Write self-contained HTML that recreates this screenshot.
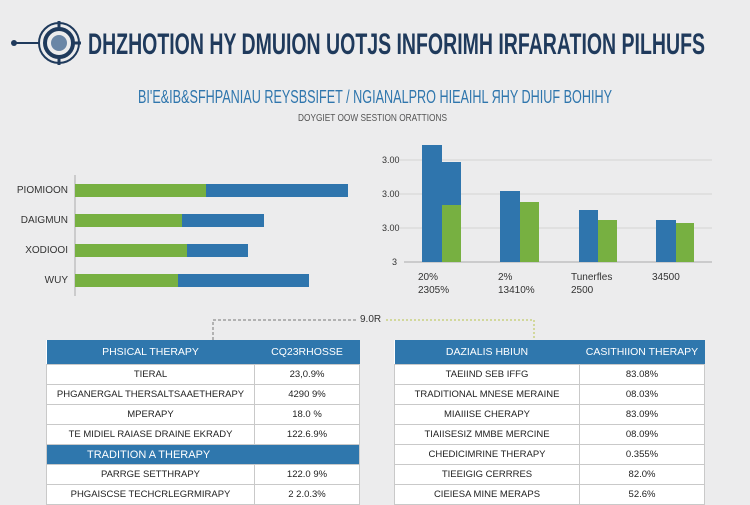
<!DOCTYPE html>
<html><head><meta charset="utf-8"><style>
body{margin:0;width:750px;height:500px;background:#ececed;position:relative;overflow:hidden;font-family:"Liberation Sans",sans-serif}
.a{position:absolute;white-space:nowrap}
.hl{font-size:10px;color:#333;text-align:right;width:60px;left:8px}
.bar{position:absolute;height:13px}
.g{background:#77b041}.b{background:#2f75ad}
.yl{font-size:9px;color:#333;left:382px}
.xl{font-size:10px;color:#333;line-height:13px}
table{position:absolute;border-collapse:collapse;font-size:9.5px;color:#222;background:#fff}
td{border:1px solid #c9c9c9;height:19px;padding:0;text-align:center}
th{background:#2f77ad;color:#fff;font-weight:normal;height:22px;font-size:10.5px}
td.s{background:#2f77ad;color:#fff;font-size:11px;text-align:left;padding-left:40px}
</style></head><body>
<svg class="a" style="left:0;top:0" width="750" height="500">
<circle cx="14" cy="43" r="3" fill="#1f3a5c"/>
<line x1="14" y1="43" x2="40" y2="43" stroke="#1f3a5c" stroke-width="2"/>
<circle cx="59" cy="43" r="20" fill="none" stroke="#1f3a5c" stroke-width="2"/>
<circle cx="59" cy="43" r="14" fill="none" stroke="#1f3a5c" stroke-width="4"/>
<circle cx="59" cy="43" r="8" fill="#6a86a6"/>
<line x1="59" y1="21" x2="59" y2="29" stroke="#1f3a5c" stroke-width="3"/>
<line x1="59" y1="57" x2="59" y2="65" stroke="#1f3a5c" stroke-width="3"/>
<line x1="73" y1="43" x2="81" y2="43" stroke="#1f3a5c" stroke-width="3"/>
<text x="88" y="54" font-size="30" font-weight="bold" fill="#1f3a5c" textLength="617" lengthAdjust="spacingAndGlyphs">DHZHOTION HY DMUION UOTJS INFORIMH IRFARATION PILHUFS</text>
<text x="138" y="103" font-size="18" fill="#2f76ad" textLength="474" lengthAdjust="spacingAndGlyphs">BI'E&amp;IB&amp;SFHPANIAU REYSBSIFET / NGIANALPRO HIEAIHL ЯHY DHIUF BOHIHY</text>
<text x="298" y="121" font-size="10" fill="#555" textLength="149" lengthAdjust="spacingAndGlyphs">DOYGIET OOW SESTION ORATTIONS</text>
<line x1="75" y1="175" x2="75" y2="296" stroke="#aaa"/>
<line x1="400" y1="160" x2="712" y2="160" stroke="#d4d4d4"/>
<line x1="400" y1="194" x2="712" y2="194" stroke="#d4d4d4"/>
<line x1="400" y1="228" x2="712" y2="228" stroke="#d4d4d4"/>
<line x1="404" y1="262" x2="712" y2="262" stroke="#aaa"/>
<rect x="422" y="145" width="20" height="117" fill="#2f75ad"/>
<rect x="442" y="162" width="19" height="100" fill="#2f75ad"/>
<rect x="442" y="205" width="19" height="57" fill="#77b041"/>
<rect x="500" y="191" width="20" height="71" fill="#2f75ad"/>
<rect x="520" y="202" width="19" height="60" fill="#77b041"/>
<rect x="579" y="210" width="19" height="52" fill="#2f75ad"/>
<rect x="598" y="220" width="19" height="42" fill="#77b041"/>
<rect x="656" y="220" width="20" height="42" fill="#2f75ad"/>
<rect x="676" y="223" width="18" height="39" fill="#77b041"/>
<polyline points="213,340 213,320 357,320" fill="none" stroke="#777" stroke-dasharray="3,2"/>
<polyline points="386,320 534,320 534,340" fill="none" stroke="#b8c44a" stroke-dasharray="2,2"/>
</svg>
<div class="a hl" style="top:185px">PIOMIOON</div>
<div class="a hl" style="top:215px">DAIGMUN</div>
<div class="a hl" style="top:245px">XODIOOI</div>
<div class="a hl" style="top:275px">WUY</div>
<div class="bar g" style="left:75px;top:184px;width:131px"></div><div class="bar b" style="left:206px;top:184px;width:142px"></div>
<div class="bar g" style="left:75px;top:214px;width:107px"></div><div class="bar b" style="left:182px;top:214px;width:82px"></div>
<div class="bar g" style="left:75px;top:244px;width:112px"></div><div class="bar b" style="left:187px;top:244px;width:61px"></div>
<div class="bar g" style="left:75px;top:274px;width:103px"></div><div class="bar b" style="left:178px;top:274px;width:131px"></div>
<div class="a yl" style="top:155px">3.00</div>
<div class="a yl" style="top:189px">3.00</div>
<div class="a yl" style="top:223px">3.00</div>
<div class="a yl" style="top:257px;left:392px">3</div>
<div class="a xl" style="left:418px;top:271px">20%<br>2305%</div>
<div class="a xl" style="left:498px;top:271px">2%<br>13410%</div>
<div class="a xl" style="left:571px;top:271px">Tunerfles<br>2500</div>
<div class="a xl" style="left:652px;top:271px">34500</div>
<div class="a" style="left:360px;top:314px;font-size:10px;color:#333">9.0R</div>
<table style="left:46px;top:340px;width:314px">
<tr><th style="width:206px">PHSICAL THERAPY</th><th>CQ23RHOSSE</th></tr>
<tr><td>TIERAL</td><td>23,0.9%</td></tr>
<tr><td>PHGANERGAL THERSALTSAAETHERAPY</td><td>4290 9%</td></tr>
<tr><td>MPERAPY</td><td>18.0 %</td></tr>
<tr><td>TE MIDIEL RAIASE DRAINE EKRADY</td><td>122.6.9%</td></tr>
<tr><td colspan="2" class="s">TRADITION A THERAPY</td></tr>
<tr><td>PARRGE SETTHRAPY</td><td>122.0 9%</td></tr>
<tr><td>PHGAISCSE TECHCRLEGRMIRAPY</td><td>2 2.0.3%</td></tr>
</table>
<table style="left:394px;top:340px;width:311px">
<tr><th style="width:183px">DAZIALIS HBIUN</th><th>CASITHIION THERAPY</th></tr>
<tr><td>TAEIIND SEB IFFG</td><td>83.08%</td></tr>
<tr><td>TRADITIONAL MNESE MERAINE</td><td>08.03%</td></tr>
<tr><td>MIAIIISE CHERAPY</td><td>83.09%</td></tr>
<tr><td>TIAIISESIZ MMBE MERCINE</td><td>08.09%</td></tr>
<tr><td>CHEDICIMRINE THERAPY</td><td>0.355%</td></tr>
<tr><td>TIEEIGIG CERRRES</td><td>82.0%</td></tr>
<tr><td>CIEIESA MINE MERAPS</td><td>52.6%</td></tr>
</table>
</body></html>
